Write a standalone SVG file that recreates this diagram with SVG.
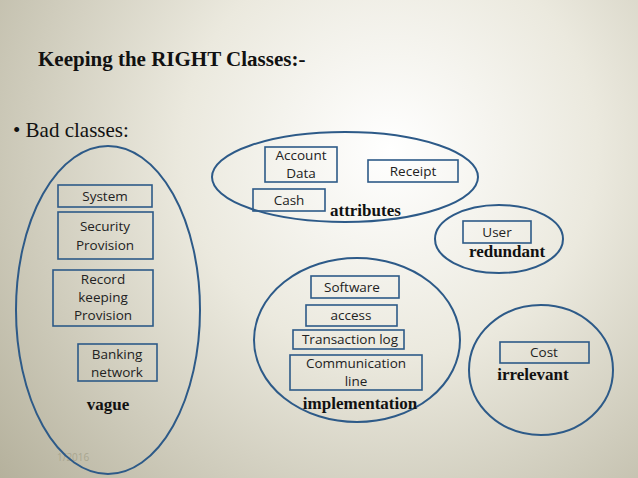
<svg xmlns="http://www.w3.org/2000/svg" width="638" height="478" viewBox="0 0 638 478">
<defs>
<radialGradient id="bg" cx="390" cy="150" r="520" gradientUnits="userSpaceOnUse">
<stop offset="0" stop-color="#ffffff"/><stop offset="0.4" stop-color="#ebe9de"/><stop offset="1" stop-color="#b3af9a"/>
</radialGradient>
<style>
.el{fill:none;stroke:#2d5a88;stroke-width:2}
.bx{fill:none;stroke:#2d5a88;stroke-width:1.6}
.t{font-family:"Open Sans",sans-serif;font-size:13.5px;fill:#222;text-anchor:middle}
.b{font-family:"Liberation Serif",serif;font-size:17px;font-weight:bold;fill:#111}
</style>
</defs>
<rect width="638" height="478" fill="url(#bg)"/>
<text x="38" y="66" font-family="Liberation Serif,serif" font-size="21" font-weight="bold" fill="#111">Keeping the RIGHT Classes:-</text>
<text x="13" y="137" font-family="Liberation Serif,serif" font-size="21" fill="#111">• Bad classes:</text>
<text x="57" y="461" font-family="Open Sans,sans-serif" font-size="10" fill="#a9a690">1/2016</text>
<g id="vague">
<ellipse class="el" cx="108" cy="310" rx="92" ry="164"/>
<rect class="bx" x="58" y="185" width="94" height="22"/><text class="t" x="105" y="201">System</text>
<rect class="bx" x="58" y="212" width="95" height="47"/><text class="t" x="105" y="231">Security</text><text class="t" x="105" y="250">Provision</text>
<rect class="bx" x="53" y="270" width="100" height="56"/><text class="t" x="103" y="284">Record</text><text class="t" x="103" y="302">keeping</text><text class="t" x="103" y="320">Provision</text>
<rect class="bx" x="78" y="344" width="79" height="37"/><text class="t" x="117" y="359">Banking</text><text class="t" x="117" y="377">network</text>
<text class="b" x="108" y="410" text-anchor="middle">vague</text>
</g>
<g id="attributes">
<ellipse class="el" cx="345" cy="177" rx="133" ry="45"/>
<rect class="bx" x="265" y="147" width="72" height="35"/><text class="t" x="301" y="160">Account</text><text class="t" x="301" y="178">Data</text>
<rect class="bx" x="368" y="160" width="90" height="22"/><text class="t" x="413" y="176">Receipt</text>
<rect class="bx" x="253" y="189" width="72" height="22"/><text class="t" x="289" y="205">Cash</text>
<text class="b" x="330" y="216">attributes</text>
</g>
<g id="redundant">
<ellipse class="el" cx="499" cy="239" rx="64" ry="34"/>
<rect class="bx" x="463" y="221" width="68" height="22"/><text class="t" x="497" y="237">User</text>
<text class="b" x="507" y="257" text-anchor="middle">redundant</text>
</g>
<g id="implementation">
<ellipse class="el" cx="357" cy="340" rx="103" ry="82"/>
<rect class="bx" x="311" y="276" width="88" height="22"/><text class="t" x="352" y="292">Software</text>
<rect class="bx" x="306" y="305" width="91" height="21"/><text class="t" x="351" y="320">access</text>
<rect class="bx" x="293" y="330" width="111" height="19"/><text class="t" x="350" y="344">Transaction log</text>
<rect class="bx" x="290" y="355" width="132" height="35"/><text class="t" x="356" y="368">Communication</text><text class="t" x="356" y="386">line</text>
<text class="b" x="360" y="409" text-anchor="middle">implementation</text>
</g>
<g id="irrelevant">
<ellipse class="el" cx="541" cy="370" rx="72" ry="65"/>
<rect class="bx" x="500" y="342" width="89" height="21"/><text class="t" x="544" y="357">Cost</text>
<text class="b" x="533" y="380" text-anchor="middle">irrelevant</text>
</g>
<g id="connectors"/>
</svg>
